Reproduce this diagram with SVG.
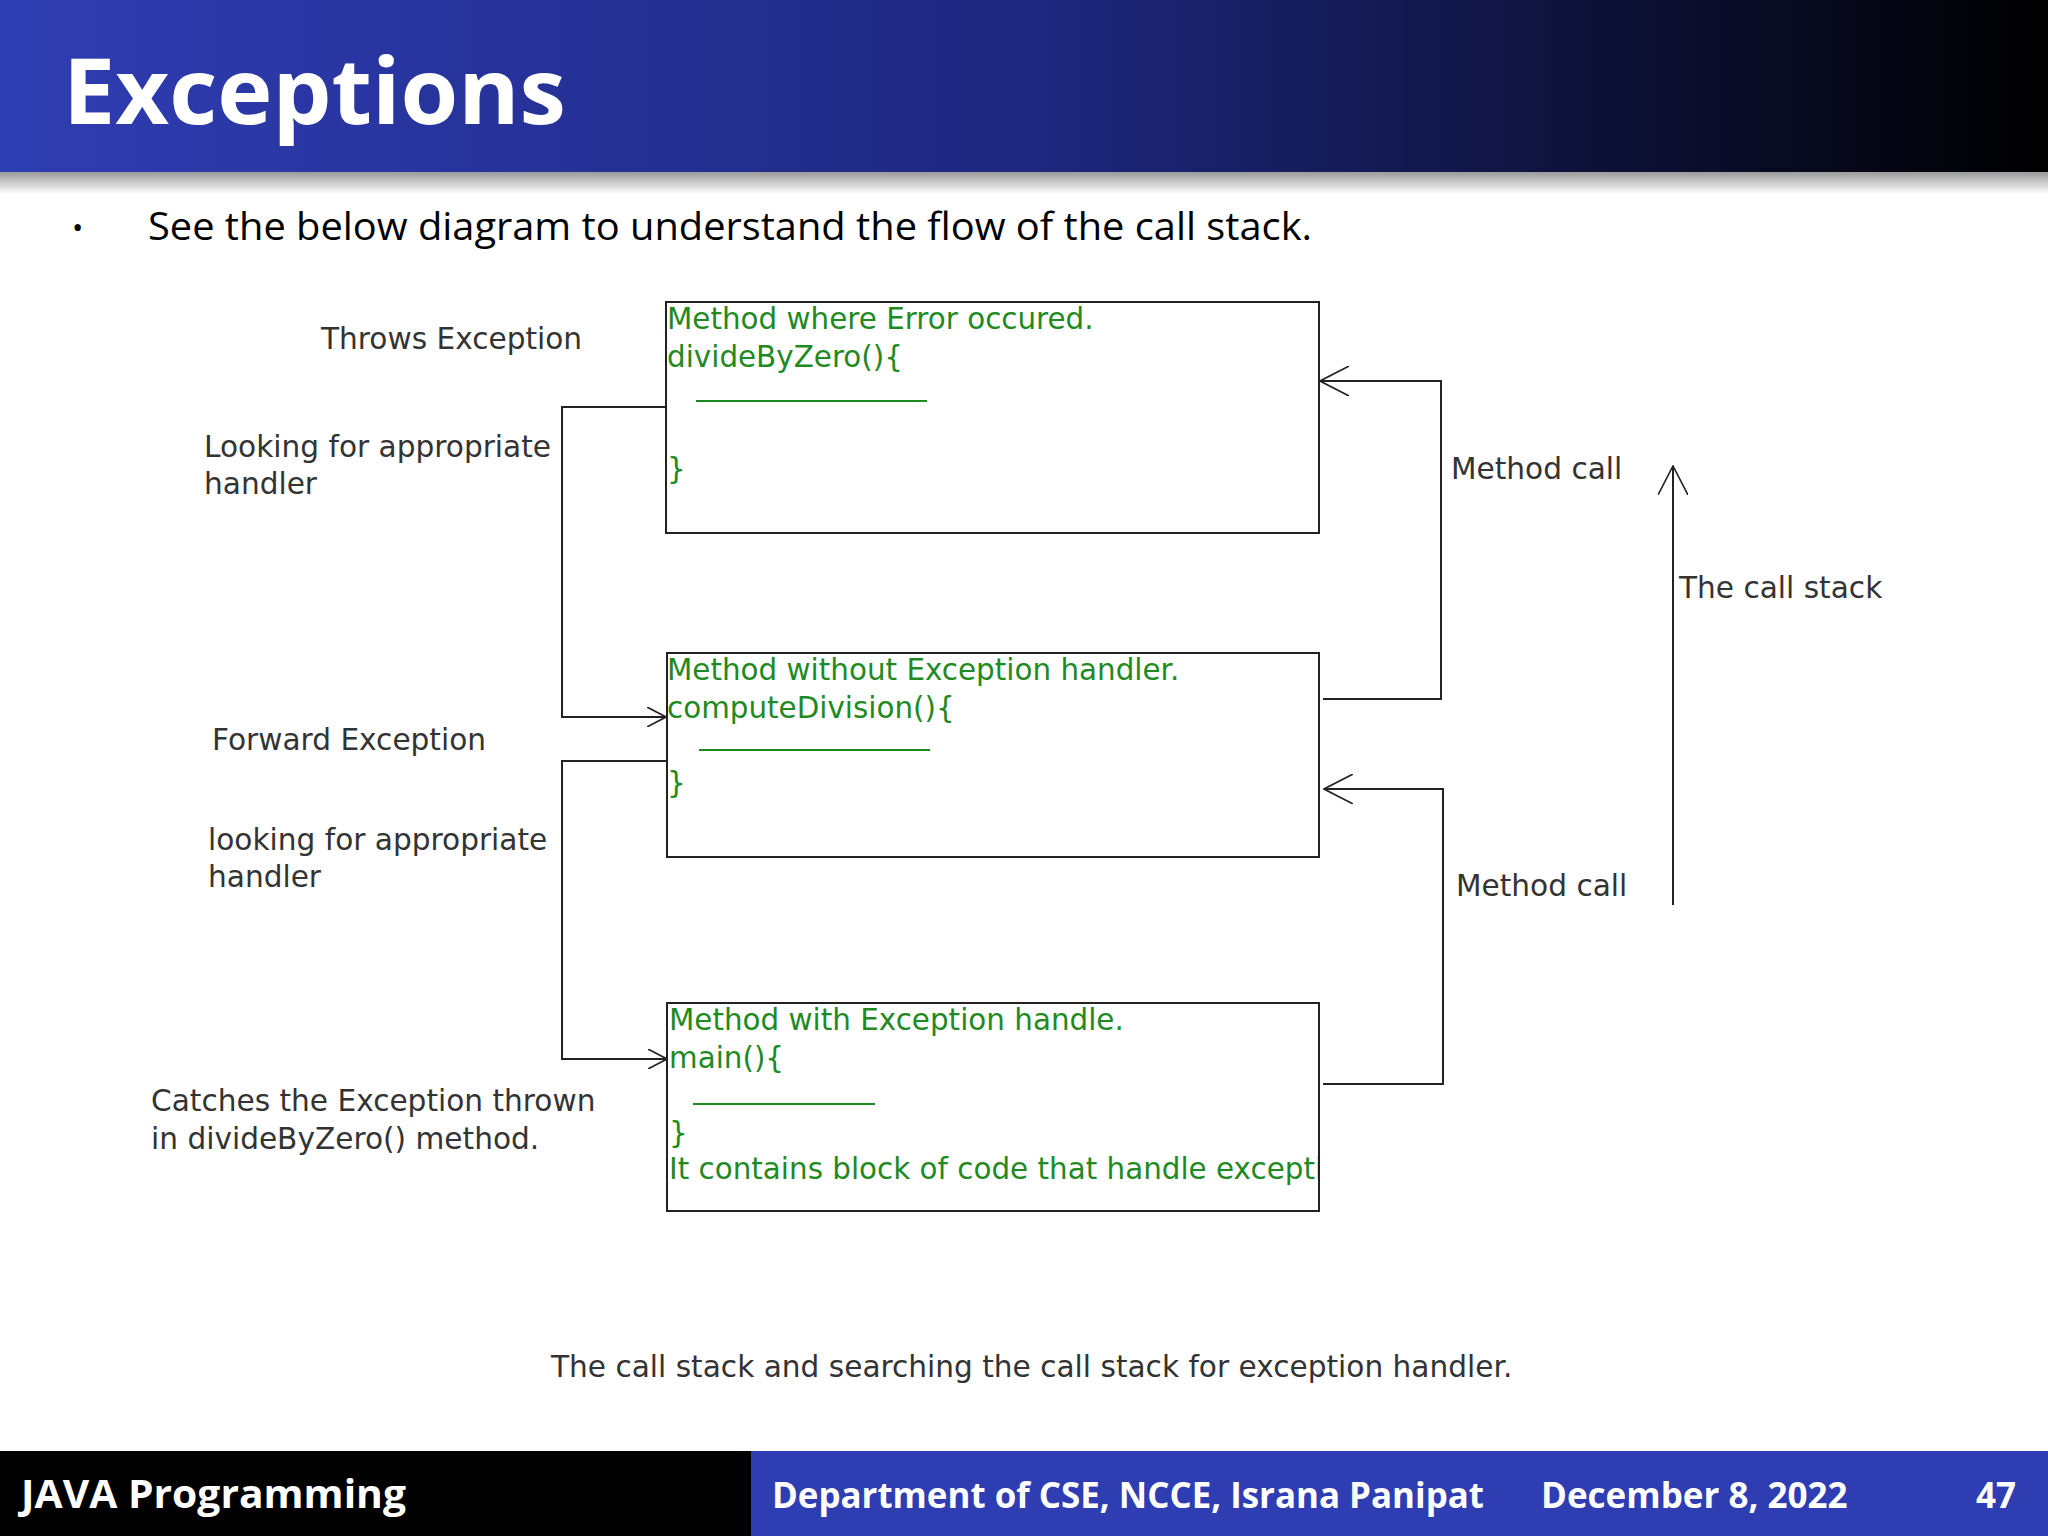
<svg xmlns="http://www.w3.org/2000/svg" width="2048" height="1536" viewBox="0 0 2048 1536">
<defs>
<linearGradient id="hdr" x1="0" y1="0" x2="1" y2="0">
<stop offset="0" stop-color="#2f3db3"/><stop offset="0.5" stop-color="#1e2880"/><stop offset="1" stop-color="#000000"/>
</linearGradient>
<linearGradient id="gbar" x1="0" y1="0" x2="0" y2="1">
<stop offset="0" stop-color="#9a9a9a"/><stop offset="1" stop-color="#ffffff"/>
</linearGradient>
<marker id="arr" viewBox="0 0 20 20" refX="19" refY="10" markerWidth="20" markerHeight="20" markerUnits="userSpaceOnUse" orient="auto">
<path d="M0,0 L19,10 L0,20" fill="none" stroke="#222" stroke-width="1.6"/>
</marker>
<marker id="arrB" viewBox="0 0 30 30" refX="29" refY="15" markerWidth="30" markerHeight="30" markerUnits="userSpaceOnUse" orient="auto">
<path d="M0,0 L29,15 L0,30" fill="none" stroke="#222" stroke-width="1.6"/>
</marker>
</defs>
<style>
.lbl{font-family:"DejaVu Sans",sans-serif;font-size:29.6px;fill:#333}
.grn{font-family:"DejaVu Sans",sans-serif;font-size:29.4px;fill:#1f8a1f}
.box{fill:#fff;stroke:#222;stroke-width:2}
.ln{fill:none;stroke:#222;stroke-width:2}
.ul{stroke:#1f8a1f;stroke-width:2}
.ft{font-family:"Open Sans",sans-serif;font-weight:bold;font-size:35px;fill:#fff}
</style>
<rect width="2048" height="1536" fill="#fff"/>
<rect x="0" y="0" width="2048" height="172" fill="url(#hdr)"/>
<rect x="0" y="172" width="2048" height="22" fill="url(#gbar)"/>
<text x="63" y="124" font-family="Open Sans,sans-serif" font-weight="bold" font-size="92" fill="#fff" textLength="503" lengthAdjust="spacingAndGlyphs">Exceptions</text>
<text x="72" y="238" font-family="Open Sans,sans-serif" font-size="30" fill="#000">•</text>
<text x="148" y="240" font-family="Open Sans,sans-serif" font-size="39" fill="#000" textLength="1164" lengthAdjust="spacingAndGlyphs">See the below diagram to understand the flow of the call stack.</text>

<g id="labels">
<text class="lbl" x="321" y="349">Throws Exception</text>
<text class="lbl" x="204" y="457">Looking for appropriate</text>
<text class="lbl" x="204" y="494">handler</text>
<text class="lbl" x="212" y="750">Forward Exception</text>
<text class="lbl" x="208" y="850">looking for appropriate</text>
<text class="lbl" x="208" y="887">handler</text>
<text class="lbl" x="151" y="1111">Catches the Exception thrown</text>
<text class="lbl" x="151" y="1149">in divideByZero() method.</text>
<text class="lbl" x="1451" y="479">Method call</text>
<text class="lbl" x="1456" y="896">Method call</text>
<text class="lbl" x="1679" y="598">The call stack</text>
<text class="lbl" x="551" y="1377">The call stack and searching the call stack for exception handler.</text>
</g>

<g id="box1">
<rect class="box" x="666" y="302" width="653" height="231"/>
<text class="grn" x="667" y="329">Method where Error occured.</text>
<text class="grn" x="667" y="367">divideByZero(){</text>
<line class="ul" x1="696" y1="401" x2="927" y2="401"/>
<text class="grn" x="667" y="479">}</text>
</g>
<g id="box2">
<rect class="box" x="667" y="653" width="652" height="204"/>
<text class="grn" x="667" y="680">Method without Exception handler.</text>
<text class="grn" x="667" y="718">computeDivision(){</text>
<line class="ul" x1="699" y1="750" x2="930" y2="750"/>
<text class="grn" x="667" y="793">}</text>
</g>
<g id="box3">
<svg x="667" y="1003" width="652" height="208" overflow="hidden">
<text class="grn" x="2" y="27">Method with Exception handle.</text>
<text class="grn" x="2" y="65">main(){</text>
<line class="ul" x1="26" y1="101" x2="208" y2="101"/>
<text class="grn" x="2" y="140">}</text>
<text class="grn" x="2" y="176">It contains block of code that handle exception</text>
</svg>
<rect x="667" y="1003" width="652" height="208" fill="none" stroke="#222" stroke-width="2"/>
</g>

<g id="connectors">
<polyline class="ln" points="666,407 562,407 562,717 666,717" marker-end="url(#arr)"/>
<polyline class="ln" points="667,761 562,761 562,1059 667,1059" marker-end="url(#arr)"/>
<polyline class="ln" points="1323,699 1441,699 1441,381 1320,381" marker-end="url(#arrB)"/>
<polyline class="ln" points="1323,1084 1443,1084 1443,789 1324,789" marker-end="url(#arrB)"/>
<line class="ln" x1="1673" y1="905" x2="1673" y2="466" marker-end="url(#arrB)"/>
</g>

<g id="footer">
<rect x="0" y="1451" width="751" height="85" fill="#000"/>
<rect x="751" y="1451" width="1297" height="85" fill="#2f3db3"/>
<text class="ft" x="21" y="1508" style="font-size:39px" textLength="385" lengthAdjust="spacingAndGlyphs">JAVA Programming</text>
<text class="ft" x="772" y="1508" textLength="712" lengthAdjust="spacingAndGlyphs">Department of CSE, NCCE, Israna Panipat</text>
<text class="ft" x="1541" y="1508">December 8, 2022</text>
<text class="ft" x="1976" y="1508">47</text>
</g>
</svg>
